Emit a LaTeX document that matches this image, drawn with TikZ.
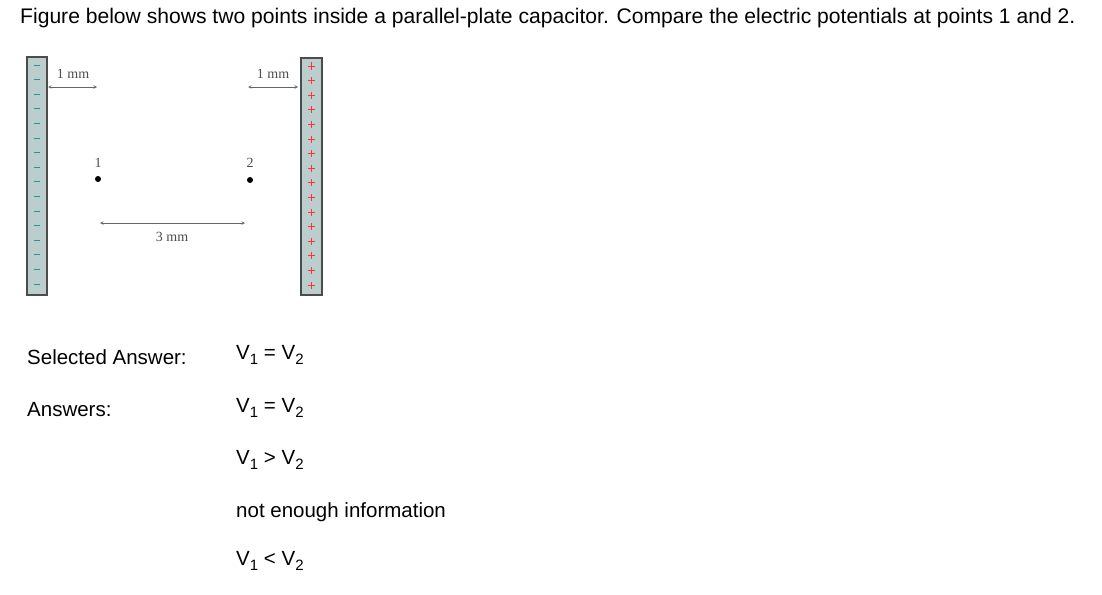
\documentclass[tikz,border=0pt]{standalone}
\usepackage{fontspec}
\setmainfont{Liberation Sans}
\newfontfamily\serifx{Liberation Serif}
\definecolor{platefill}{HTML}{BCCDCD}
\newcommand{\sbx}[1]{\raisebox{-0.45ex}{\fontsize{15}{15}\selectfont #1}}
\begin{document}
\begin{tikzpicture}[x=1pt,y=-1pt,
  plate/.style={draw=black!70,line width=1.8pt,fill=platefill},
  dim/.style={draw=black!60,line width=0.6pt,<->,>=stealth},
  lbl/.style={font=\serifx\fontsize{14}{14}\selectfont,text=black!70},
  txt/.style={anchor=west,font=\fontsize{20.5}{20.5}\selectfont,inner sep=0pt},
  dotp/.style={circle,fill=black,inner sep=0pt,minimum size=6pt}]
\useasboundingbox (0,0) rectangle (1102,594);
\node[anchor=west,inner sep=0pt,font=\fontsize{21.1}{21}\selectfont] (q) at (20,18) {Figure below shows two points inside a parallel-plate capacitor. Compare the electric potentials at points 1 and 2.};
\draw[plate] (27,57) rectangle (47,295);
\draw[plate] (301,58) rectangle (322,295);
\foreach \i in {0,...,15}{
  \draw[teal!85,line width=1pt] (34,65+14.6*\i) -- (40,65+14.6*\i);
  \draw[red!80,line width=0.8pt] (308,66+14.6*\i) -- (315,66+14.6*\i) (311.5,62.5+14.6*\i) -- (311.5,69.5+14.6*\i);
}
\coordinate (a1) at (48,87); \coordinate (b1) at (97,87);
\draw[dim] (a1) -- (b1);
\node[lbl] (t1) at (73,74) {1 mm};
\coordinate (a2) at (248,87); \coordinate (b2) at (298,87);
\draw[dim] (a2) -- (b2);
\node[lbl] (t2) at (273,74) {1 mm};
\node[dotp] (p1) at (98,179) {};
\node[lbl] (l1) at (98,163) {1};
\node[dotp] (p2) at (250,180) {};
\node[lbl] (l2) at (250,163) {2};
\coordinate (a3) at (100,223); \coordinate (b3) at (245,223);
\draw[dim] (a3) -- (b3);
\node[lbl] (t3) at (172,237) {3 mm};
\node[txt] (sa) at (27,357) {Selected Answer:};
\node[txt] (a0) at (236,355) {V\sbx{1} = V\sbx{2}};
\node[txt] (an) at (27,410) {Answers:};
\node[txt] (o1) at (236,408) {V\sbx{1} = V\sbx{2}};
\node[txt] (o2) at (236,460) {V\sbx{1} > V\sbx{2}};
\node[txt] (o3) at (236,512) {not enough information};
\node[txt] (o4) at (236,561) {V\sbx{1} < V\sbx{2}};
\end{tikzpicture}
\end{document}
